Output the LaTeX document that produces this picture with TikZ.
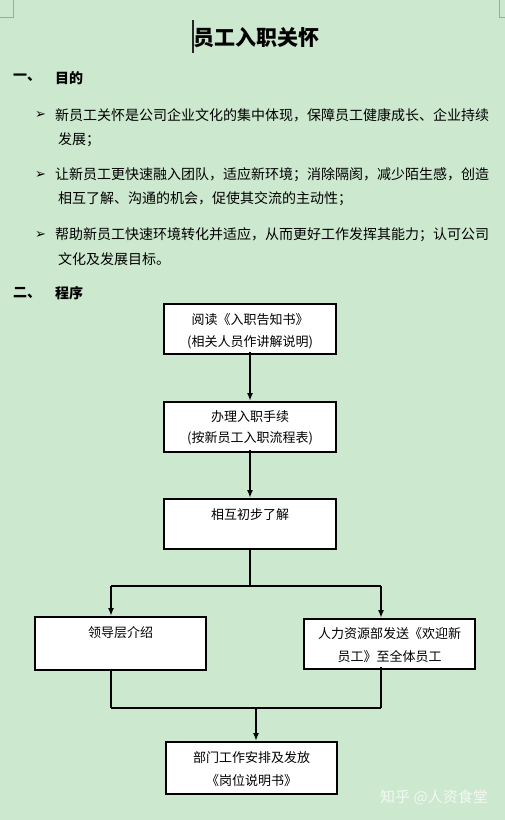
\documentclass[tikz,border=0pt]{standalone}
\usepackage{fontspec}
\setmainfont{Noto Sans CJK SC}
\newfontfamily\symfont{DejaVu Sans}
\usetikzlibrary{arrows.meta}
\definecolor{bg}{RGB}{204,232,207}
\begin{document}
\begin{tikzpicture}[x=1pt,y=-1pt,
  body/.style={font=\fontsize{14}{14}\selectfont, inner sep=0, anchor=west},
  head/.style={font=\fontsize{14}{14}\selectfont\bfseries, inner sep=0, anchor=west},
  bul/.style={font=\symfont\fontsize{13}{13}\selectfont, inner sep=0, anchor=west},
  box/.style={draw=black, line width=2pt, fill=white, inner sep=0},
  btxt/.style={font=\fontsize{13}{13}\selectfont, inner sep=0},
  conn/.style={draw=black, line width=1.8pt},
  arr/.style={conn, -{Latex[length=8pt,width=6pt]}}]
\fill[bg] (0,0) rectangle (505,820);
\useasboundingbox (0,0) rectangle (505,820);
% page corner marks
\draw[gray!70, line width=0.6pt] (0,17) -- (13,17) -- (13,0);
\draw[gray!70, line width=0.6pt] (505,17) -- (499,17) -- (499,0);
% title and cursor
\node[font=\fontsize{21}{21}\selectfont\bfseries, inner sep=0] (title) at (256,38) {员工入职关怀};
\draw[black!85, line width=1.2pt] (193,20) -- (193,53);
% section 1
\node[head] (n1) at (13,78) {一、};
\node[head] (h1) at (55,78) {目的};
\node[bul] (b1m) at (35,115) {➢};
\node[body] (t11) at (55,115) {新员工关怀是公司企业文化的集中体现，保障员工健康成长、企业持续};
\node[body] (t12) at (58,140) {发展；};
\node[bul] (b2m) at (35,175) {➢};
\node[body] (t21) at (55,175) {让新员工更快速融入团队，适应新环境；消除隔阂，减少陌生感，创造};
\node[body] (t22) at (58,199) {相互了解、沟通的机会，促使其交流的主动性；};
\node[bul] (b3m) at (35,235) {➢};
\node[body] (t31) at (55,235) {帮助新员工快速环境转化并适应，从而更好工作发挥其能力；认可公司};
\node[body] (t32) at (58,259) {文化及发展目标。};
% section 2
\node[head] (n2) at (13,293) {二、};
\node[head] (h2) at (55,293) {程序};
% boxes
\node[box, minimum width=172pt, minimum height=50pt] (s1) at (250,329) {};
\node[btxt] (s1a) at (250,320) {阅读《入职告知书》};
\node[btxt] (s1b) at (250,342) {(相关人员作讲解说明)};
\node[box, minimum width=172pt, minimum height=50pt] (s2) at (250,427) {};
\node[btxt] (s2a) at (250,417) {办理入职手续};
\node[btxt] (s2b) at (250,438) {(按新员工入职流程表)};
\node[box, minimum width=172pt, minimum height=50pt] (s3) at (250,524) {};
\node[btxt] (s3a) at (250,515) {相互初步了解};
\node[box, minimum width=171pt, minimum height=53pt] (sl) at (120.5,643.5) {};
\node[btxt] (sla) at (120.5,633) {领导层介绍};
\node[box, minimum width=171pt, minimum height=50pt] (sr) at (389.5,644) {};
\node[btxt] (sra) at (389.5,634) {人力资源部发送《欢迎新};
\node[btxt] (srb) at (389.5,657) {员工》至全体员工};
\node[box, minimum width=171pt, minimum height=52pt] (sb) at (251.5,768) {};
\node[btxt] (sba) at (251.5,758) {部门工作安排及发放};
\node[btxt] (sbb) at (251.5,781) {《岗位说明书》};
% connectors
\coordinate (j0) at (250,586);
\coordinate (jl) at (111,586);
\coordinate (jr) at (381,586);
\coordinate (kl) at (111,708);
\coordinate (kr) at (381,708);
\coordinate (k0) at (256,708);
\draw[arr] ([yshift=3pt]s1.south) -- (s2.north);
\draw[arr] ([yshift=3pt]s2.south) -- (s3.north);
\draw[conn] (s3.south) -- (j0);
\draw[conn] (jl) -- (jr);
\draw[arr] (jl) -- (jl |- sl.north);
\draw[arr] (jr) -- (jr |- sr.north);
\draw[conn] (kl |- sl.south) -- (kl);
\draw[conn] ([yshift=3pt]kr |- sr.south) -- (kr);
\draw[conn] (kl) -- (kr);
\draw[arr] (k0) -- (k0 |- sb.north);
% watermark
\node[font=\fontsize{15}{15}\selectfont, text=white, text opacity=0.75, inner sep=0, anchor=west] (wm) at (380,797) {知乎 @人资食堂};
\end{tikzpicture}
\end{document}
